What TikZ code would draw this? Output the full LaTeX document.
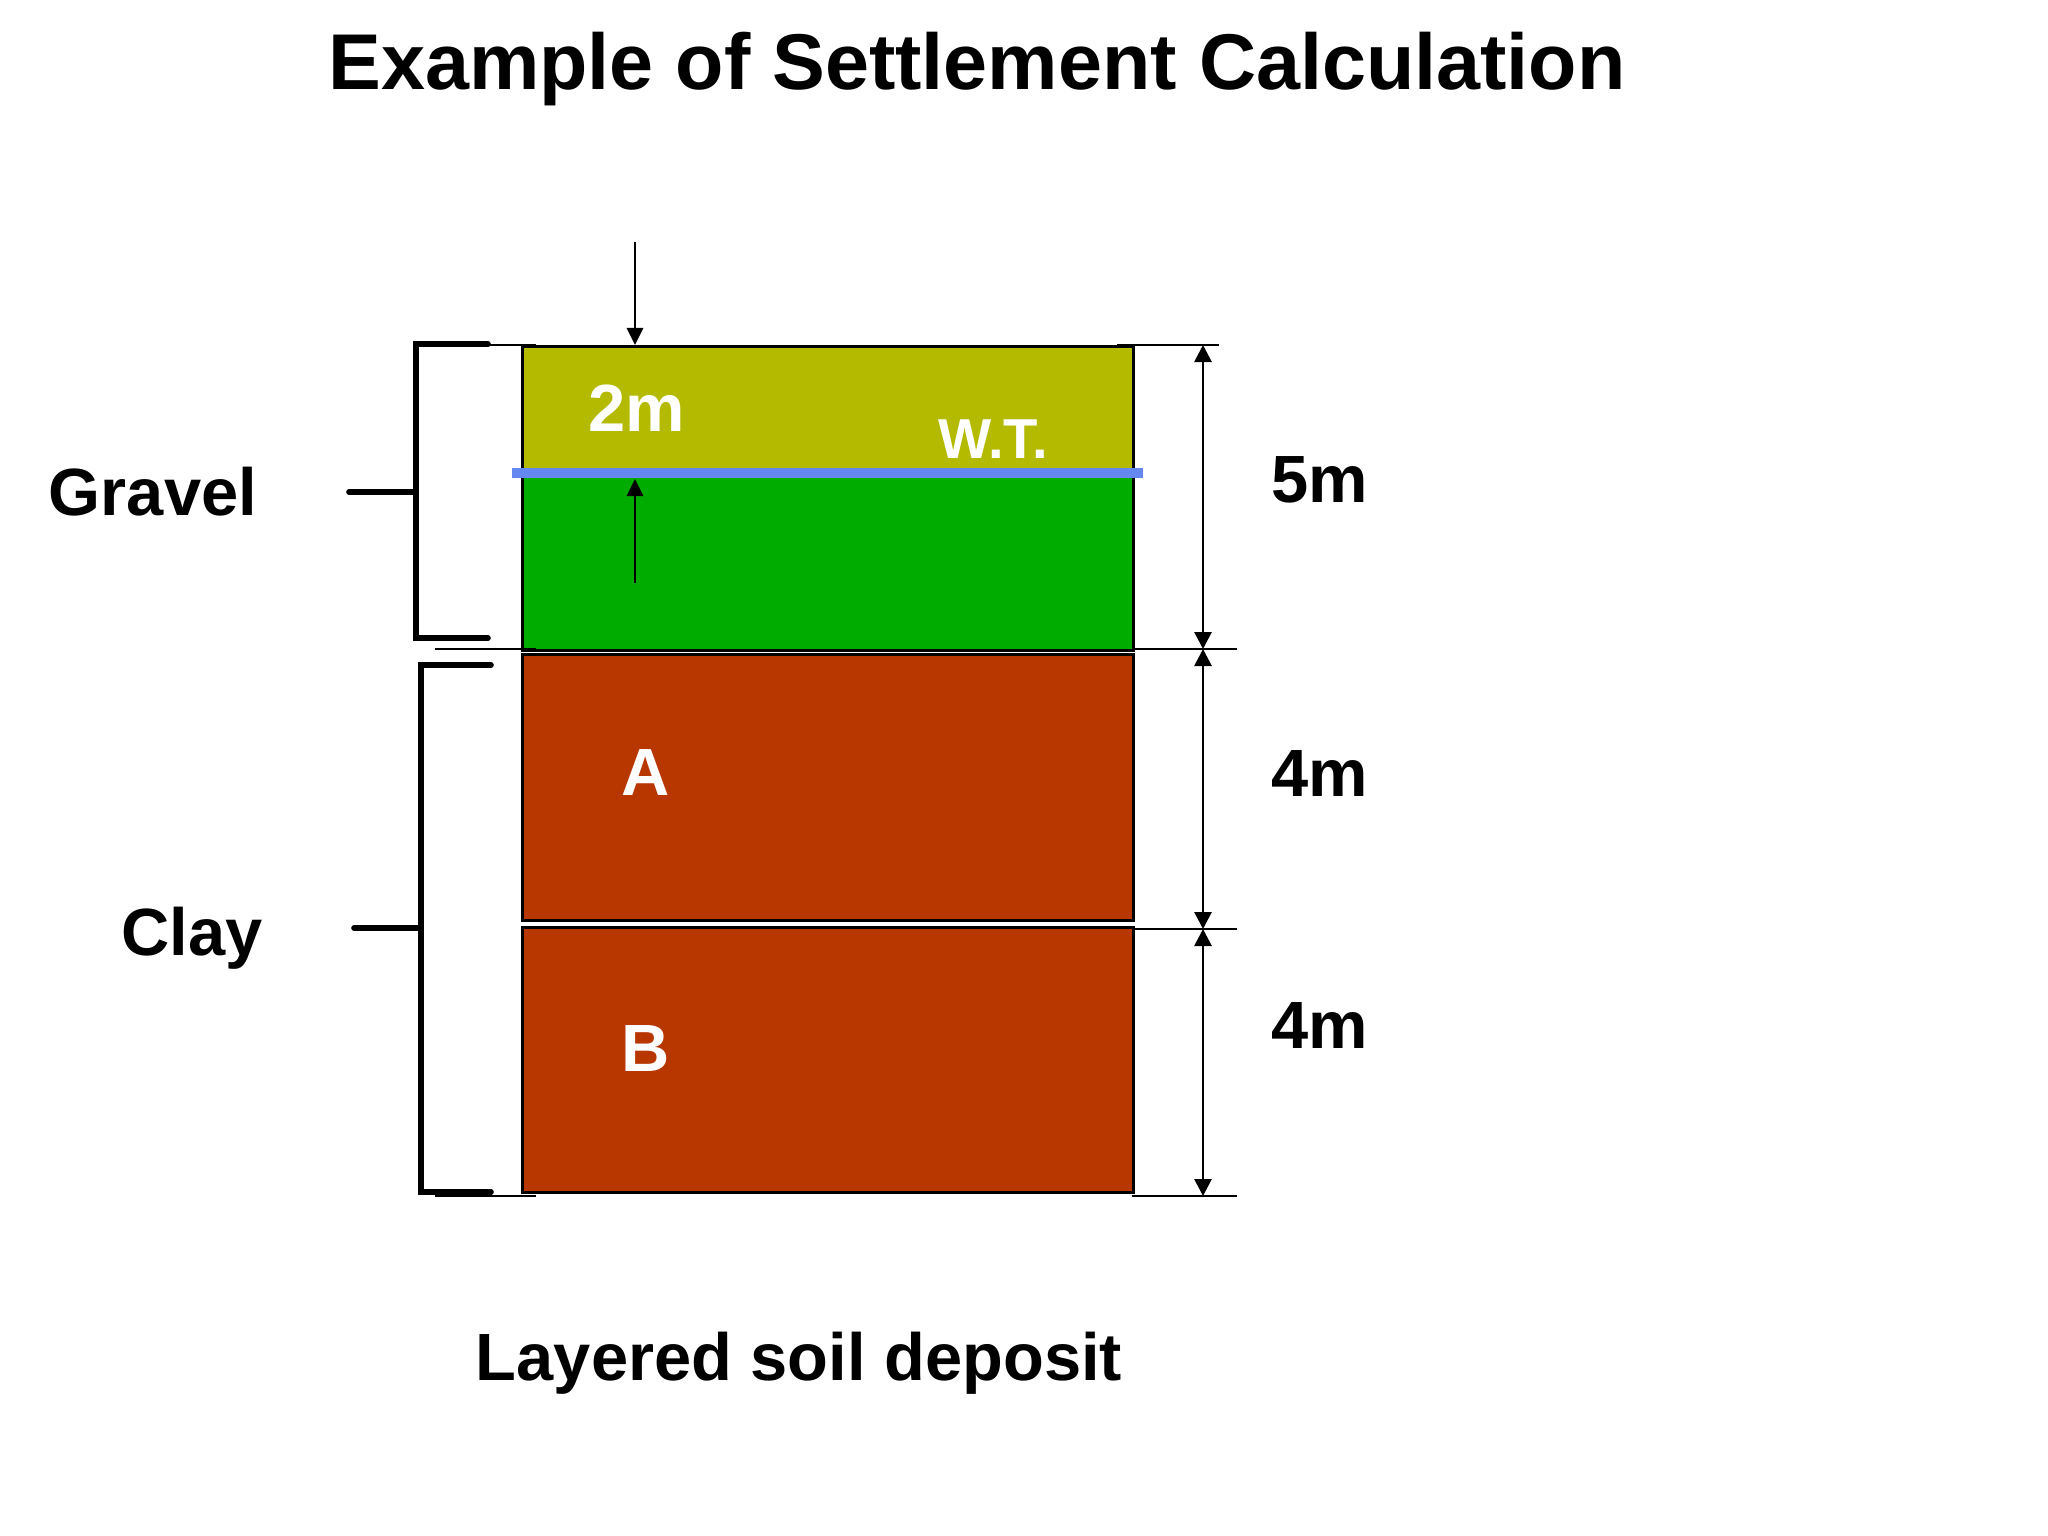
\documentclass[tikz,border=0pt]{standalone}
\usepackage{fontspec}
\setmainfont{Liberation Sans}
\usetikzlibrary{arrows.meta}
\definecolor{gravtop}{RGB}{180,186,0}
\definecolor{gravbot}{RGB}{0,172,0}
\definecolor{claycol}{RGB}{184,54,0}
\definecolor{wtblue}{RGB}{100,136,240}
\tikzset{
  lbl/.style={font=\fontsize{19}{22}\selectfont\bfseries, inner sep=0pt, anchor=base},
  wlbl/.style={lbl, text=white},
  layer/.style={draw=black, line width=0.8pt},
  brace/.style={line width=1.6pt, line cap=round},
  thinline/.style={line width=0.6pt},
  dimarrow/.style={line width=0.8pt, {Triangle[length=0.17cm,width=0.17cm]}-{Triangle[length=0.17cm,width=0.17cm]}},
  ptr/.style={line width=0.8pt, -{Triangle[length=0.17cm,width=0.16cm]}},
}
\begin{document}
\begin{tikzpicture}[x=0.01cm,y=-0.01cm]
\useasboundingbox (0,0) rectangle (2048,1536);
% title
\node[lbl, font=\fontsize{22.5}{26}\selectfont\bfseries] (title) at (977,89) {Example of Settlement Calculation};
% gravel layer
\fill[gravtop] (521,345) rectangle (1132,473);
\fill[gravbot] (521,473) rectangle (1132,649);
\node[layer, anchor=north west, inner sep=0pt, minimum width=6.11cm, minimum height=3.04cm] (gravel) at (521,345) {};
% clay layers
\node[layer, fill=claycol, anchor=north west, inner sep=0pt, minimum width=6.11cm, minimum height=2.66cm] (clayA) at (521,653) {};
\node[layer, fill=claycol, anchor=north west, inner sep=0pt, minimum width=6.11cm, minimum height=2.65cm] (clayB) at (521,926) {};
% water table
\coordinate (wtL) at (512,473);
\coordinate (wtR) at (1143,473);
\draw[wtblue, line width=2.8pt] (wtL) -- (wtR);
% depth arrows
\coordinate (ldTop) at (635,242);
\coordinate (ldTip) at (635,345);
\draw[ptr] (ldTop) -- (ldTip);
\coordinate (upBot) at (635,583);
\coordinate (upTip) at (635,479);
\draw[ptr] (upBot) -- (upTip);
% thin extension lines
\coordinate (lA1) at (488,345); \coordinate (lA2) at (536,345);
\coordinate (lB1) at (435,649); \coordinate (lB2) at (536,649);
\coordinate (lC1) at (435,1196); \coordinate (lC2) at (536,1196);
\draw[thinline] (lA1) -- (lA2);
\draw[thinline] (lB1) -- (lB2);
\draw[thinline] (lC1) -- (lC2);
\coordinate (r1a) at (1117,345); \coordinate (r1b) at (1219,345);
\coordinate (r2a) at (1132,649); \coordinate (r2b) at (1237,649);
\coordinate (r3a) at (1132,929); \coordinate (r3b) at (1237,929);
\coordinate (r4a) at (1132,1196); \coordinate (r4b) at (1237,1196);
\draw[thinline] (r1a) -- (r1b);
\draw[thinline] (r2a) -- (r2b);
\draw[thinline] (r3a) -- (r3b);
\draw[thinline] (r4a) -- (r4b);
% dimension arrows
\coordinate (d1) at (1203,345);
\coordinate (d2) at (1203,649);
\coordinate (d3) at (1203,929);
\coordinate (d4) at (1203,1196);
\draw[dimarrow] (d1) -- (d2);
\draw[dimarrow] (d2) -- (d3);
\draw[dimarrow] (d3) -- (d4);
% brackets
\coordinate (gb1) at (488,344); \coordinate (gb2) at (416,344);
\coordinate (gb3) at (416,638); \coordinate (gb4) at (488,638);
\coordinate (gt1) at (349,492); \coordinate (gt2) at (416,492);
\draw[brace] (gb1) -- (gb2) -- (gb3) -- (gb4);
\draw[brace] (gt1) -- (gt2);
\coordinate (cb1) at (491,665); \coordinate (cb2) at (421,665);
\coordinate (cb3) at (421,1192); \coordinate (cb4) at (491,1192);
\coordinate (ct1) at (354,928); \coordinate (ct2) at (421,928);
\draw[brace] (cb1) -- (cb2) -- (cb3) -- (cb4);
\draw[brace] (ct1) -- (ct2);
% labels
\node[lbl] (lgravel) at (153,515) {Gravel};
\node[lbl] (lclay) at (192,955) {Clay};
\node[lbl] (l5m) at (1320,502) {5m};
\node[lbl] (l4mA) at (1320,796) {4m};
\node[lbl] (l4mB) at (1320,1048) {4m};
\node[wlbl] (l2m) at (637,431) {2m};
\node[wlbl, font=\fontsize{16}{19}\selectfont\bfseries] (lwt) at (993,458) {W.T.};
\node[wlbl] (lA) at (646,795) {A};
\node[wlbl] (lB) at (646,1071) {B};
\node[lbl] (lcap) at (799,1380) {Layered soil deposit};
\end{tikzpicture}
\end{document}
